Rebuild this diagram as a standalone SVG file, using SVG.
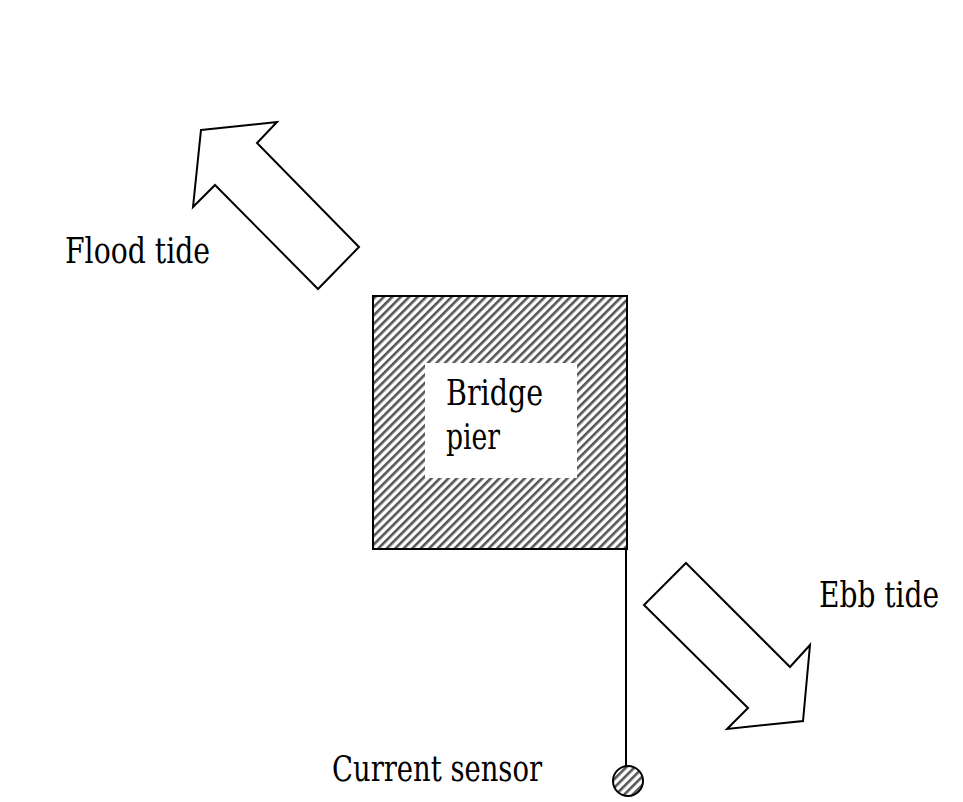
<svg xmlns="http://www.w3.org/2000/svg" width="963" height="802" viewBox="0 0 963 802">
<style>
.t{font-family:"DejaVu Serif Condensed","DejaVu Serif",serif;font-stretch:condensed;font-size:35px;fill:#000}
.o{fill:#fff;stroke:#000;stroke-width:2}
</style>
<defs>
<pattern id="h" width="6" height="6" patternUnits="userSpaceOnUse" patternTransform="rotate(45)">
<rect width="6" height="6" fill="#fff"/><rect width="2.6" height="6" fill="#555"/>
</pattern>
</defs>
<rect width="963" height="802" fill="#fff"/>
<g id="pier">
<rect x="373" y="296" width="254" height="253" fill="url(#h)" stroke="#000" stroke-width="2"/>
<rect x="425" y="363" width="152" height="115" fill="#fff"/>
<text class="t" x="446" y="405" textLength="97" lengthAdjust="spacingAndGlyphs">Bridge</text>
<text class="t" x="446" y="449" textLength="54" lengthAdjust="spacingAndGlyphs">pier</text>
</g>
<g id="flood">
<polygon class="o" points="201,130 277,122 257,143 359,247 318,289 215,185 193,207"/>
<text class="t" x="65" y="263" textLength="145" lengthAdjust="spacingAndGlyphs">Flood tide</text>
</g>
<g id="ebb">
<polygon class="o" points="686,563 790,667 810,645 803,721 727,729 748,708 644,605"/>
<text class="t" x="819" y="607" textLength="120" lengthAdjust="spacingAndGlyphs">Ebb tide</text>
</g>
<g id="connectors">
<line x1="626" y1="549" x2="626" y2="766" stroke="#000" stroke-width="2"/>
</g>
<g id="sensor">
<circle cx="628" cy="781" r="15" fill="url(#h)" stroke="#000" stroke-width="2"/>
<text class="t" x="332" y="781" textLength="210" lengthAdjust="spacingAndGlyphs">Current sensor</text>
</g>
</svg>
